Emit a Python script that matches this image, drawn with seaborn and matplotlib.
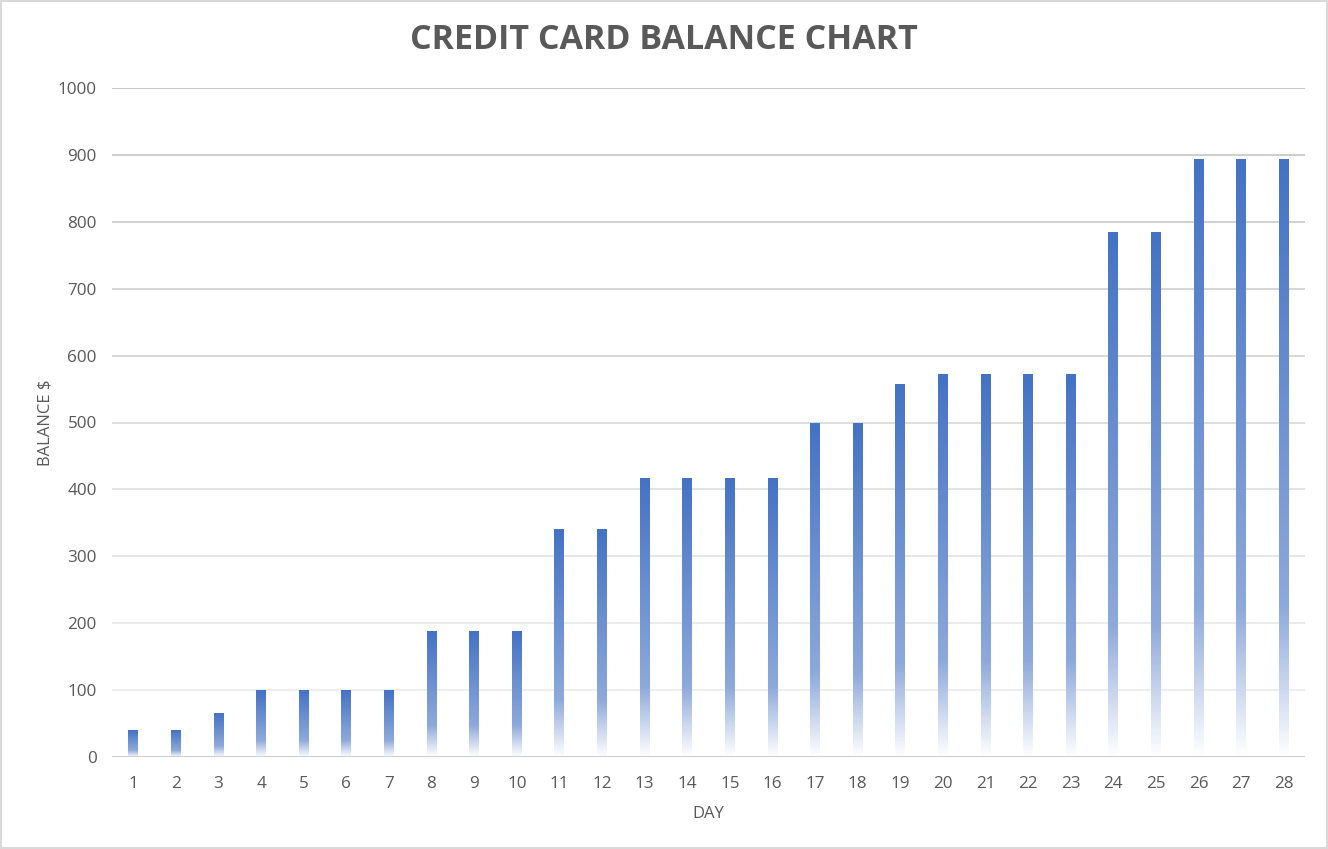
import numpy as np
import pandas as pd
import matplotlib.pyplot as plt
import matplotlib.colors as mcolors
import seaborn as sns

# Data
days = list(range(1, 29))
balance = [40, 40, 65, 100, 100, 100, 100, 188, 188, 188, 340, 340, 416, 416,
           416, 416, 499, 499, 557, 572, 572, 572, 572, 784, 784, 893, 893, 893]
y_ticks = [0, 100, 200, 300, 400, 500, 600, 700, 800, 900, 1000]

df = pd.DataFrame({'Day': [str(d) for d in days], 'Balance': balance})

sns.set_style('white')
plt.rcParams['font.family'] = ['Open Sans', 'DejaVu Sans']
text_gray = '#595959'

fig = plt.figure(figsize=(13.28, 8.49), dpi=100)
ax = fig.add_axes([112 / 1328, 1 - 757 / 849, (1305 - 112) / 1328, (757 - 88) / 849])

sns.barplot(data=df, x='Day', y='Balance', color='#4472C4', width=0.23, ax=ax, zorder=3)

# gradient fill for each bar: solid blue at top fading to white at bottom
blue = np.array(mcolors.to_rgb('#4472C4'))
mid = np.array(mcolors.to_rgb('#8EA9DB'))
white = np.array([1.0, 1.0, 1.0])
t = np.linspace(0, 1, 256)[:, None]
grad = np.where(t < 0.75, blue + (mid - blue) * (t / 0.75),
                mid + (white - mid) * ((t - 0.75) / 0.25))
grad = grad[:, None, :]
for p in ax.patches:
    x0, y0 = p.get_x(), p.get_y()
    w, h = p.get_width(), p.get_height()
    p.set_facecolor('none')
    p.set_edgecolor('none')
    ax.imshow(grad, extent=[x0, x0 + w, y0, y0 + h], aspect='auto', origin='upper', zorder=3)

ax.set_ylim(0, 1000)
ax.set_xlim(-0.5, len(days) - 0.5)

# gridlines fading from top to bottom
top_c = np.array(mcolors.to_rgb('#c4c4c4'))
bot_c = np.array(mcolors.to_rgb('#f2f2f2'))
for v in y_ticks[1:]:
    f = v / 1000
    ax.axhline(v, color=bot_c + (top_c - bot_c) * f, linewidth=1.3, zorder=1)
ax.axhline(0, color='#d0d0d0', linewidth=1.5, zorder=4)

for s in ax.spines.values():
    s.set_visible(False)

ax.set_yticks(y_ticks)
ax.set_yticklabels([str(v) for v in y_ticks])
ax.tick_params(axis='both', length=0, labelsize=12.3, colors=text_gray)
ax.tick_params(axis='x', pad=14)
ax.tick_params(axis='y', pad=11)

ax.set_xlabel('DAY', fontsize=12, color=text_gray, labelpad=10)
ax.set_ylabel('BALANCE $', fontsize=12, color=text_gray, labelpad=3)

fig.text(0.5, 1 - 40 / 849, 'CREDIT CARD BALANCE CHART', ha='center', va='center',
         fontsize=24.5, fontweight='bold', color=text_gray)

# outer border
fig.add_artist(plt.Rectangle((0.001, 0.001), 0.998, 0.998, transform=fig.transFigure,
                             fill=False, edgecolor='#d9d9d9', linewidth=1.5))

fig.savefig('out.png', dpi=100)
